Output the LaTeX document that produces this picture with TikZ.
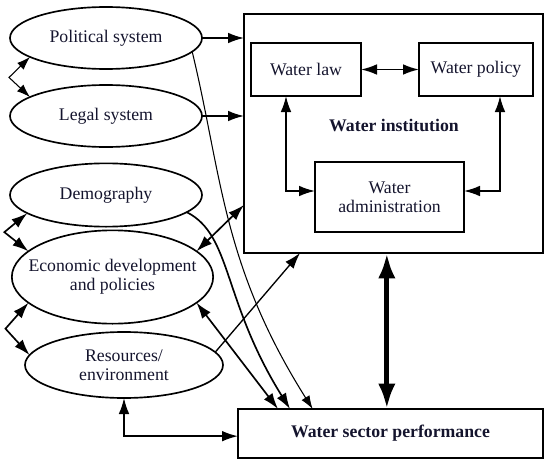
\documentclass[tikz,border=0pt]{standalone}
\usepackage{fontspec}
\setmainfont{Liberation Serif}
\usetikzlibrary{arrows.meta, shapes.geometric, positioning}

\definecolor{inktext}{RGB}{20,20,45}

\begin{document}
\begin{tikzpicture}[x=0.75pt, y=-0.75pt, line width=1.25pt,
        >={Latex[length=12pt,width=8pt]},
        font=\fontsize{13.3}{14.5}\selectfont,
        factor node/.style={ellipse, draw, inner xsep=-12pt, inner ysep=0pt, outer sep=0pt, align=center, text=inktext},
        box node/.style={rectangle, draw, inner sep=0pt, outer sep=0pt, align=center, text=inktext},
        thin link/.style={line width=0.8pt, >={Latex[length=10pt,width=7pt]}},
        big arrow/.style={line width=3.8pt, {Latex[length=19pt,width=13pt]}-{Latex[length=19pt,width=13pt]}}]
    \useasboundingbox (0,0) rectangle (550,464);

    % exogenous factors
    \node[factor node, minimum width=144pt, minimum height=46.5pt] (pol) at (106,38) {Political system};
    \node[factor node, minimum width=144pt, minimum height=46.5pt] (leg) at (106,116) {Legal system};
    \node[factor node, minimum width=144pt, minimum height=47.5pt] (dem) at (106,195) {Demography};
    \node[factor node, minimum width=151pt, minimum height=70pt] (eco) at (112.5,277) {Economic development\\and policies};
    \node[factor node, minimum width=148.5pt, minimum height=49.5pt] (res) at (124,365) {Resources/\\environment};

    % water institution and its parts
    \node[box node, minimum width=224.25pt, minimum height=179.25pt] (inst) at (393.5,133.5) {};
    \node[text=inktext, font=\fontsize{13.3}{14.5}\selectfont\bfseries] (insttitle) at (394,125) {Water institution};
    \node[box node, minimum width=82.5pt, minimum height=39.75pt] (law) at (306,69.5) {Water law};
    \node[box node, minimum width=85.5pt, minimum height=39.75pt] (wpol) at (476,69.5) {Water policy};
    \node[box node, minimum width=111.75pt, minimum height=52.5pt] (adm) at (389.5,197) {Water\\administration};
    \node[box node, minimum width=228.75pt, minimum height=36.75pt, font=\fontsize{13.3}{14.5}\selectfont\bfseries] (perf) at (390.5,433.5) {Water sector performance};

    \foreach \s in {pol, leg} {
        \draw[->] (\s.east) -- (\s.east -| inst.west);}
    \draw[<->] (law.east) -- (wpol.west);
    \draw[<->] ([xshift=-15pt]law.south) |- ([yshift=4.5pt]adm.west);
    \draw[<->] ([xshift=18pt]wpol.south) |- ([yshift=4.5pt]adm.east);
    \draw[big arrow] ([xshift=-5pt]inst.south) -- ([xshift=-5pt]inst.south |- perf.north);

    % links between the factors
    \draw[thin link, <->] (pol.194) -- +(-21,20.5) -- (leg.166);
    \draw[<->] (dem.193) -- +(-23,19) -- (eco.163);
    \draw[<->] (eco.197) -- +(-23,26) -- (res.174);

    % links to institution and performance
    \draw[thin link, ->] (pol.-9) .. controls (222,175) and (222,265) .. ([xshift=56pt]perf.north west);
    \draw[->] (dem.-12) .. controls (232,235) and (222,300) .. ([xshift=39pt]perf.north west);
    \draw[<->] (eco.-17) -- ([xshift=30pt]perf.north west);
    \draw[<->] (eco.17) -- ([yshift=-53.6pt]inst.west);
    \draw[->, line width=1pt] (res.8) -- ([xshift=42pt]inst.south west);
    \draw[<->] (res.south) |- ([yshift=-2pt]perf.west);
\end{tikzpicture}
\end{document}
